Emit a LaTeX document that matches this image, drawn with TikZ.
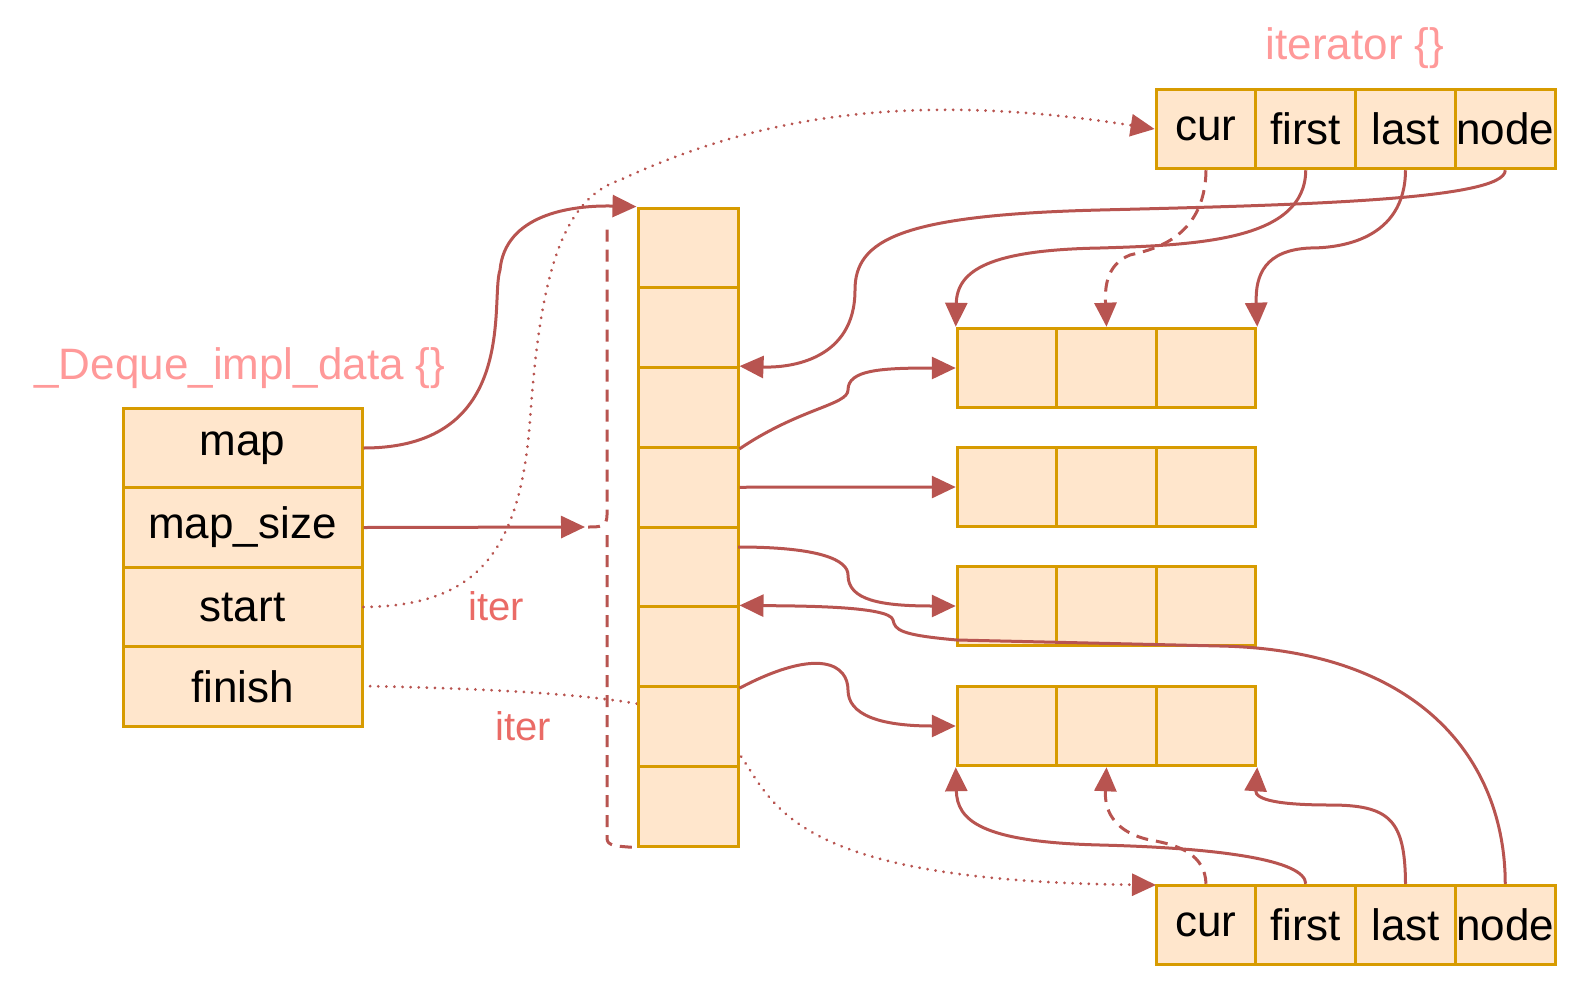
\documentclass[tikz,border=0pt]{standalone}
\usepackage{fontspec}
\setmainfont{Liberation Sans}
\usetikzlibrary{arrows.meta}
\definecolor{cfill}{HTML}{FFE6CC}
\definecolor{cdraw}{HTML}{D79B00}
\definecolor{cline}{HTML}{B85450}
\definecolor{ctitle}{HTML}{FF9999}
\definecolor{citer}{HTML}{EA6B66}
\begin{document}
\begin{tikzpicture}[x=1pt,y=-1pt,
  cell/.style={draw=cdraw,fill=cfill,line width=3pt,inner sep=0pt,font=\fontsize{44}{48}\selectfont},
  conn/.style={draw=cline,line width=3pt,-{Triangle[length=24pt,width=22pt]}},
  plain/.style={draw=cline,line width=3pt},
  dots/.style={dash pattern=on 0.1pt off 8pt,line cap=round},
  dsh/.style={dash pattern=on 12pt off 8pt},
  title/.style={text=ctitle,inner sep=0pt,font=\fontsize{44}{48}\selectfont},
  lbl/.style={text=citer,inner sep=0pt,font=\fontsize{40}{44}\selectfont}]
\useasboundingbox (0,0) rectangle (1576,980);
% finish iterator dotted path (behind the map column)
\coordinate (F0) at (362,686);
\coordinate (F1) at (1156,885);
\draw[plain,dots,-{Triangle[length=24pt,width=22pt]}] (F0) .. controls (560,690) and (650,700) .. (700,720) .. controls (790,760) and (700,880) .. (F1);
% left struct
\foreach \t [count=\i] in {map,map\_size,start,finish}
  \node[cell,minimum width=239pt,minimum height=79.5pt] (L\i) at (242.5,{448+79.5*(\i-1)}) {\t};
\node[title] (T) at (240,368) {\_Deque\_impl\_data \{\}};
% map column
\foreach \i in {1,...,8}
  \node[cell,minimum width=100pt,minimum height=79.75pt] (M\i) at (688,{248+79.75*(\i-1)}) {};
% buffers
\foreach \r/\y in {1/368,2/487,3/606,4/726}
  \foreach \c in {1,2,3}
    \node[cell,minimum width=99.5pt,minimum height=79.5pt] (B\r\c) at ({1007+99.5*(\c-1)},\y) {};
% iterators
\foreach \t [count=\i] in {cur,first,last,node} {
  \node[cell,minimum width=99.75pt,minimum height=79.5pt] (I\i) at ({1206+99.75*(\i-1)},129) {\t};
  \node[cell,minimum width=99.75pt,minimum height=79.5pt] (J\i) at ({1206+99.75*(\i-1)},925) {\t};
}
\node[title] (IT) at (1355,48) {iterator \{\}};
\node[lbl] (iter1) at (496,606) {iter};
\node[lbl] (iter2) at (523,726) {iter};
% map -> map column
\draw[conn] (L1.east) .. controls (520,448) and (490,300) .. (500,270) .. controls (505,215) and (570,205) .. (M1.north west);
% map_size
\coordinate (MS) at (585,527);
\draw[conn] (L2.east) -- (MS);
\draw[plain,dsh] (588,527) .. controls (600,527) and (607,527) .. (607,515) -- (607,222);
\draw[plain,dsh] (607,535) -- (607,838) .. controls (607,846) and (615,846) .. (M8.south west);
% start dotted
\draw[plain,dots,-{Triangle[length=24pt,width=22pt]}] (L3.east) .. controls (470,606) and (520,560) .. (530,420) .. controls (540,280) and (560,200) .. (620,180) .. controls (750,120) and (900,89) .. (I1.west);
% map column -> buffers
\draw[conn] (M3.south east) .. controls (800,408) and (848,405) .. (848,390) .. controls (848,370) and (880,368) .. (B11.west);
\draw[conn] (M4.east) -- (B21.west);
\draw[conn] (738,547) .. controls (820,547) and (848,560) .. (848,575) .. controls (848,600) and (880,606) .. (B31.west);
\draw[conn] (M6.south east) .. controls (820,646) and (848,665) .. (848,690) .. controls (848,715) and (880,726) .. (B41.west);
% top iterator node -> map row 3
\draw[conn] (I4.south) .. controls (1505,200) and (1300,205) .. (1100,210) .. controls (900,215) and (855,240) .. (855,290) .. controls (855,360) and (790,368) .. (M3.north east);
% top iterator -> buffer 1
\draw[conn,dsh] (I1.south) .. controls (1205,240) and (1150,250) .. (1130,255) .. controls (1105,265) and (1105,290) .. (B12.north);
\draw[conn] (I2.south) .. controls (1305,240) and (1200,245) .. (1100,248) .. controls (990,250) and (957,270) .. (B11.north west);
\draw[conn] (I3.south) .. controls (1405,240) and (1340,248) .. (1310,248) .. controls (1265,250) and (1255,275) .. (B13.north east);
% bottom iterator node -> map row 6
\draw[conn] (J4.north) .. controls (1505,760) and (1420,650) .. (1220,646) -- (957,640) .. controls (900,635) and (895,630) .. (893,620) .. controls (890,606) and (800,606) .. (M6.north east);
% bottom iterator -> buffer 4
\draw[conn,dsh] (J1.north) .. controls (1205,855) and (1180,845) .. (1150,840) .. controls (1105,830) and (1105,800) .. (B42.south);
\draw[conn] (J2.north) .. controls (1305,860) and (1220,848) .. (1100,845) .. controls (980,842) and (957,820) .. (B41.south west);
\draw[conn] (J3.north) .. controls (1405,820) and (1390,805) .. (1330,805) .. controls (1280,805) and (1255,800) .. (B43.south east);
\end{tikzpicture}
\end{document}
